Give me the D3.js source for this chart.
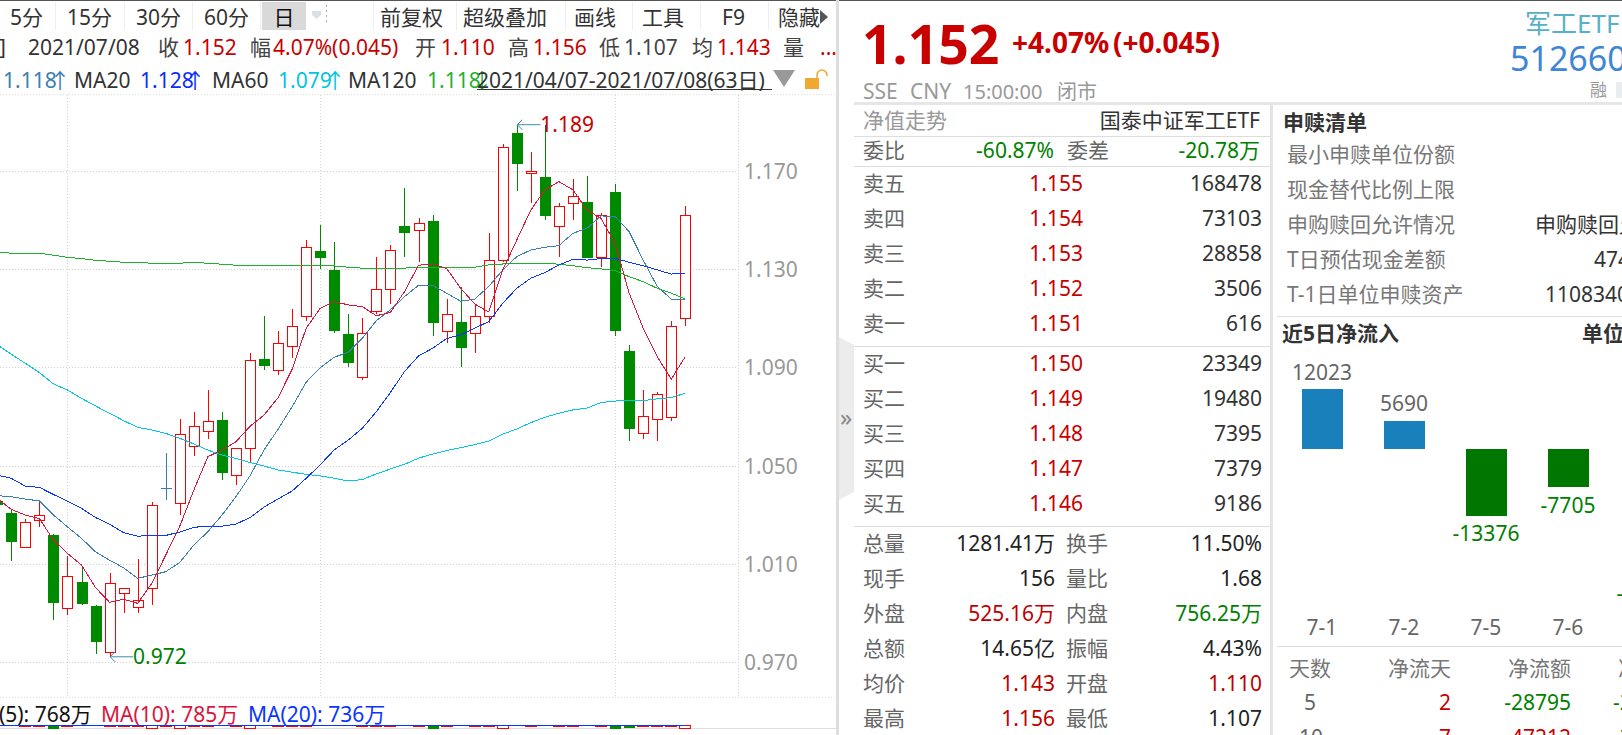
<!DOCTYPE html>
<html><head><meta charset="utf-8">
<script src="https://cdn.jsdelivr.net/npm/d3@7/dist/d3.min.js"></script>
<style>html,body{margin:0;padding:0;background:#fff;overflow:hidden}svg{display:block}
text{font-family:"Noto Sans","Noto Sans CJK SC",sans-serif;dominant-baseline:central}</style></head><body>
<script>
// ---------- chart data ----------
const opens  =[1.036,1.031,1.017,1.028,1.022,0.992,1.003,0.993,0.974,0.998,0.992,1.000,1.041,1.035,1.058,1.064,1.069,1.046,1.057,1.094,1.089,1.099,1.111,1.138,1.130,1.104,1.086,1.113,1.122,1.148,1.146,1.150,1.105,1.109,1.104,1.111,1.134,1.186,1.169,1.168,1.148,1.157,1.158,1.135,1.162,1.097,1.063,1.069,1.070,1.110];
const highs  =[1.037,1.032,1.028,1.036,1.022,1.013,1.009,0.993,1.006,1.000,1.012,1.035,1.055,1.069,1.072,1.081,1.072,1.057,1.096,1.111,1.105,1.114,1.142,1.148,1.141,1.112,1.110,1.135,1.140,1.163,1.151,1.152,1.118,1.123,1.116,1.145,1.181,1.189,1.178,1.189,1.157,1.167,1.168,1.153,1.165,1.099,1.081,1.080,1.109,1.156];
const lows   =[1.033,1.011,1.017,1.025,0.987,0.989,0.993,0.973,0.972,0.990,0.990,0.993,1.036,1.030,1.054,1.061,1.044,1.042,1.051,1.089,1.087,1.094,1.109,1.130,1.104,1.090,1.085,1.112,1.116,1.135,1.133,1.103,1.100,1.090,1.096,1.108,1.133,1.162,1.157,1.150,1.135,1.150,1.135,1.131,1.103,1.060,1.061,1.060,1.068,1.107];
const closes =[1.034,1.019,1.027,1.030,0.994,1.005,0.994,0.978,1.002,1.000,0.995,1.034,1.041,1.063,1.066,1.068,1.047,1.057,1.093,1.091,1.100,1.107,1.139,1.135,1.105,1.092,1.104,1.122,1.138,1.145,1.149,1.108,1.112,1.098,1.111,1.134,1.180,1.173,1.170,1.152,1.156,1.160,1.135,1.152,1.105,1.065,1.070,1.079,1.107,1.152];
const ma5  =[1.0366,1.0321,1.0298,1.0284,1.0196,1.0142,1.0094,1.0002,0.9942,0.9955,0.9938,1.0019,1.0135,1.0253,1.0400,1.0536,1.0563,1.0597,1.0660,1.0706,1.0777,1.0893,1.1060,1.1141,1.1169,1.1155,1.1148,1.1111,1.1124,1.1209,1.1317,1.1322,1.1304,1.1223,1.1159,1.1126,1.1298,1.1420,1.1542,1.1624,1.1658,1.1624,1.1542,1.1508,1.1406,1.1203,1.1060,1.0944,1.0852,1.0944];
const ma10 =[1.0377,1.0373,1.0363,1.0356,1.0298,1.0250,1.0203,1.0148,1.0114,1.0083,1.0040,1.0053,1.0067,1.0105,1.0176,1.0230,1.0298,1.0373,1.0458,1.0564,1.0648,1.0740,1.0840,1.0899,1.0942,1.0962,1.1019,1.1091,1.1135,1.1189,1.1235,1.1235,1.1203,1.1170,1.1179,1.1230,1.1298,1.1352,1.1379,1.1390,1.1397,1.1447,1.1468,1.1518,1.1515,1.1454,1.1338,1.1230,1.1179,1.1179];
const ma20 =[1.0461,1.0448,1.0416,1.0411,1.0382,1.0355,1.0325,1.0288,1.0261,1.0226,1.0212,1.0215,1.0215,1.0229,1.0248,1.0253,1.0253,1.0261,1.0288,1.0331,1.0364,1.0396,1.0448,1.0503,1.0564,1.0604,1.0652,1.0720,1.0798,1.0883,1.0947,1.0978,1.1018,1.1033,1.1060,1.1087,1.1162,1.1223,1.1264,1.1287,1.1318,1.1341,1.1338,1.1344,1.1345,1.1329,1.1315,1.1298,1.1281,1.1284];
const ma60 =[1.0992,1.0954,1.0917,1.0879,1.0833,1.0808,1.0774,1.0743,1.0713,1.0683,1.0656,1.0645,1.0631,1.0611,1.0588,1.0563,1.0543,1.0529,1.0512,1.0498,1.0482,1.0473,1.0464,1.0458,1.0448,1.0437,1.0443,1.0466,1.0486,1.0505,1.0530,1.0547,1.0561,1.0573,1.0585,1.0600,1.0628,1.0649,1.0675,1.0697,1.0713,1.0727,1.0734,1.0757,1.0763,1.0766,1.0765,1.0772,1.0777,1.0795];
const ma120=[1.1370,1.1366,1.1366,1.1366,1.1358,1.1349,1.1344,1.1337,1.1333,1.1329,1.1329,1.1325,1.1325,1.1325,1.1329,1.1325,1.1321,1.1317,1.1317,1.1317,1.1317,1.1317,1.1317,1.1317,1.1314,1.1309,1.1305,1.1305,1.1305,1.1305,1.1309,1.1309,1.1309,1.1309,1.1309,1.1318,1.1322,1.1325,1.1325,1.1325,1.1321,1.1315,1.1307,1.1302,1.1295,1.1270,1.1250,1.1223,1.1203,1.1179];
const volumes=[400,380,400,380,1500,420,400,400,400,420,420,1250,420,1150,400,400,400,400,1150,420,420,400,420,420,400,400,400,420,420,400,420,1300,420,420,420,420,1150,420,400,420,420,420,420,420,1700,1100,420,400,420,1281];
const tickValues=[1.17,1.13,1.09,1.05,1.01,0.97];
const dojiIndex=12;
const highMark={index:37,value:1.189,label:"1.189"};
const lowMark={index:8,value:0.972,label:"0.972"};
const flowDates=["7-1","7-2","7-5","7-6","7-7"];
const flowValues=[12023,5690,-13376,-7705,-25427];

const periods=["5分","15分","30分","60分","日"];
const periodX=[10,67,136,204,284];
const tools=["前复权","超级叠加","画线","工具","F9","隐藏"];
const toolX=[380,463,574,642,722,778];
const sellLabels=["卖五","卖四","卖三","卖二","卖一"];
const sellPrices=["1.155","1.154","1.153","1.152","1.151"];
const sellVols=["168478","73103","28858","3506","616"];
const buyLabels=["买一","买二","买三","买四","买五"];
const buyPrices=["1.150","1.149","1.148","1.147","1.146"];
const buyVols=["23349","19480","7395","7379","9186"];
const statRows=[["总量","1281.41万","换手","11.50%"],["现手","156","量比","1.68"],["外盘","525.16万","内盘","756.25万"],["总额","14.65亿","振幅","4.43%"],["均价","1.143","开盘","1.110"],["最高","1.156","最低","1.107"]];
const statColors=[["#222","#222"],["#222","#222"],["#c00000","#008000"],["#222","#222"],["#c00000","#c00000"],["#c00000","#222"]];
const redeemLabels=["最小申赎单位份额","现金替代比例上限","申购赎回允许情况","T日预估现金差额","T-1日单位申赎资产"];

// ---------- layout ----------
const W=1622,H=735,RED="#ff0000",GREEN="#008a00",TR="#c80000",TG="#008000",GRAY="#999",DK="#333";
const svg=d3.select("body").append("svg").attr("width",W).attr("height",H).attr("viewBox",`0 0 ${W} ${H}`);
const txt=(x,y,s,c=DK,o={})=>svg.append("text").attr("x",x).attr("y",y).attr("dy",-0.5).text(s).attr("fill",c)
  .attr("font-size",o.size||21).attr("text-anchor",o.anchor||"start").attr("font-weight",o.weight||400);
const hline=(x1,x2,y,c="#ddd",w=1,dash=null)=>svg.append("line").attr("x1",x1).attr("x2",x2).attr("y1",y).attr("y2",y).attr("stroke",c).attr("stroke-width",w).attr("stroke-dasharray",dash).attr("shape-rendering","crispEdges");
const vline=(x,y1,y2,c="#ddd",w=1,dash=null)=>svg.append("line").attr("x1",x).attr("x2",x).attr("y1",y1).attr("y2",y2).attr("stroke",c).attr("stroke-width",w).attr("stroke-dasharray",dash).attr("shape-rendering","crispEdges");

// scales
const x=d3.scaleLinear().domain([0,49]).range([-2.73,685.3]);
const y=d3.scaleLinear().domain([1.17,0.97]).range([171.3,661.7]);
const volH=d3.scaleLinear().domain([0,1300]).range([0,3]);
const idx=d3.range(closes.length);

// top bar
hline(0,W,0.5,"#555",1);
svg.append("rect").attr("x",262).attr("y",2).attr("width",44).attr("height",28).attr("fill","#d9d9d9");
periods.forEach((p,i)=>txt(periodX[i],17,p,i==4?"#111":DK,{anchor:i==4?"middle":"start"}));
[55,124,192,260,373,456,565,632,700,768].forEach(v=>vline(v+.5,2,30,"#eee"));
svg.append("path").attr("d","M312 11h9v4l-4.500 4l-4.500-4z").attr("fill","#d8dfe5");
vline(326.5,5,25,"#aaa",1,"2 3");
tools.forEach((p,i)=>txt(toolX[i],17,p));
svg.append("path").attr("d","M820 10l8 7l-8 7z").attr("fill","#555");

// info row
txt(-1,47.500,"]");
txt(28,47.500,"2021/07/08");
[["收",158],["幅",250],["开",415],["高",508],["低",599],["均",692],["量",783]].forEach(d=>txt(d[1],47.500,d[0],"#444"));
[["1.152",183,TR],["4.07%(0.045)",273,TR],["1.110",441,TR],["1.156",533,TR],["1.107",624,"#444"],["1.143",717,TR],["...",820,TR]].forEach(d=>txt(d[1],47.500,d[0],d[2]));

// MA row
txt(3,80,"1.118","#3a7fb0");txt(60,80,"↑","#3a7fb0",{anchor:"middle"});
txt(74,80,"MA20");
txt(140,80,"1.128","#0a2cff");txt(195,80,"↑","#0a2cff",{anchor:"middle"});
txt(212,80,"MA60");
txt(278,80,"1.079","#00c4e0");txt(335,80,"↑","#00c4e0",{anchor:"middle"});
txt(348,80,"MA120");
txt(427,80,"1.118","#1fb030");txt(482,80,"↓","#1fb030",{anchor:"middle"});
txt(477,80,"2021/04/07-2021/07/08(63日)");
hline(477,772,89,"#333",1);
svg.append("path").attr("d","M773 70h22l-11 17z").attr("fill","#999");
svg.append("rect").attr("x",805).attr("y",78).attr("width",14).attr("height",11).attr("fill","#f0a830");
svg.append("path").attr("d","M817 78v-3a5 5 0 0 1 10 0v1").attr("fill","none").attr("stroke","#f0a830").attr("stroke-width",1.500);
hline(0,838,94.5,"#ddd",1,"1 2");

// grid
const grid="#d2d2d2";
tickValues.forEach(v=>hline(0,738,Math.round(y(v))+.5,grid,1,"1 2"));
[67,320,615,738].forEach(v=>vline(v+.5,95,697,grid,1,"1 2"));
hline(0,838,697.5,"#ddd",1,"1 2");
hline(0,838,728.5,"#ddd",1);

// right axis
const axis=svg.append("g").attr("transform","translate(744,0)").call(d3.axisRight(y).tickValues(tickValues).tickSize(0).tickPadding(0).tickFormat(d3.format(".3f")));
axis.select(".domain").remove();
axis.selectAll("text").attr("font-size",21).attr("fill",GRAY).attr("dy",-0.5);

// candles
const plot=svg.append("g").attr("shape-rendering","crispEdges");
const col=i=>i===dojiIndex?"#3a7fb0":(closes[i]>=opens[i]?RED:GREEN);
plot.selectAll(".w").data(idx).join("line").attr("x1",i=>Math.round(x(i))+.5).attr("x2",i=>Math.round(x(i))+.5)
  .attr("y1",i=>y(highs[i])).attr("y2",i=>y(lows[i])).attr("stroke",col).attr("stroke-width",1);
plot.selectAll(".b").data(idx.filter(i=>i!==dojiIndex)).join("rect")
  .attr("x",i=>Math.round(x(i))-5+(closes[i]>=opens[i]?.5:0)).attr("width",i=>closes[i]>=opens[i]?10:11)
  .attr("y",i=>Math.round(y(Math.max(opens[i],closes[i])))+.5).attr("height",i=>Math.max(1,Math.abs(y(opens[i])-y(closes[i]))))
  .attr("fill",i=>closes[i]>=opens[i]?"#fff":GREEN).attr("stroke",i=>closes[i]>=opens[i]?RED:GREEN).attr("stroke-width",i=>closes[i]>=opens[i]?1:0);
plot.append("line").attr("x1",Math.round(x(dojiIndex))-5).attr("x2",Math.round(x(dojiIndex))+6)
  .attr("y1",Math.round(y(closes[dojiIndex]))+.5).attr("y2",Math.round(y(closes[dojiIndex]))+.5).attr("stroke",col(dojiIndex));

// moving averages
const line=d3.line().x((d,i)=>x(i)).y(d=>y(d));
[[ma120,"#1fb030"],[ma60,"#00c8e0"],[ma20,"#0a35ff"],[ma10,"#3a7fb0"],[ma5,"#dc143c"]].forEach(([d,c])=>
  svg.append("path").datum(d).attr("d",line).attr("fill","none").attr("stroke",c).attr("stroke-width",1).attr("shape-rendering","crispEdges"));

// high / low markers
[[highMark,23,TR],[lowMark,23,TG]].forEach(([m,len,c])=>{
  const px=x(m.index)+.5,py=y(m.value);
  svg.append("path").attr("d",`M${px+len} ${py}H${px}M${px+5} ${py-5}L${px} ${py}L${px+5} ${py+5}`).attr("fill","none").attr("stroke","#3a8fb0").attr("stroke-width",1);
  txt(px+len,py,m.label,c);
});

// volume strip
txt(-1,714,"(5): 768万","#111",{size:21});txt(101,714,"MA(10): 785万","#dc143c",{size:21});txt(248,714,"MA(20): 736万","#0a35ff",{size:21});
const vol=svg.append("g").attr("shape-rendering","crispEdges");
vol.selectAll("rect").data(idx).join("rect").attr("x",i=>Math.round(x(i))-5.500).attr("width",11).attr("y",725.5)
  .attr("height",i=>Math.max(.6,volH(volumes[i])))
  .attr("fill",i=>closes[i]>=opens[i]?"#fff":GREEN).attr("stroke",i=>closes[i]>=opens[i]?RED:GREEN).attr("stroke-width",i=>closes[i]>=opens[i]?1:0);
hline(0,685,725.5,"#0a35ff",1);

// separators / collapse tab
svg.append("rect").attr("x",836).attr("y",0).attr("width",3).attr("height",H).attr("fill","#dedede");
svg.append("path").attr("d","M839 337L854 345V492L839 500z").attr("fill","#ececec");
txt(846,417,"»","#888",{anchor:"middle",size:24});
hline(854,W,103,"#e6e6e6",3);

// quote header
txt(862,44,"1.152",TR,{size:53.5,weight:700});
txt(1012,42,"+4.07%",TR,{size:28,weight:700});
txt(1113,42,"(+0.045)",TR,{size:28,weight:700});
[["SSE",863,21],["CNY",910,21],["15:00:00",963,20],["闭市",1057,20]].forEach(d=>txt(d[1],91.500,d[0],GRAY,{size:d[2]}));
txt(1525,23,"军工ETF","#55b0c8",{size:26});
txt(1510,58,"512660","#3f86d6",{size:34});
txt(1590,90,"融",GRAY,{size:17});
svg.append("rect").attr("x",1616).attr("y",82).attr("width",6).attr("height",16).attr("fill","#e8eef0");

// quote table
txt(863,120,"净值走势",GRAY);
txt(1260,120,"国泰中证军工ETF",DK,{anchor:"end"});
hline(854,1270,136.5);
txt(863,150.5,"委比","#666");txt(1054,150.5,"-60.87%",TG,{anchor:"end"});txt(1067,150.5,"委差","#666");txt(1260,150.5,"-20.78万",TG,{anchor:"end"});
hline(854,1270,166.5);
const book=(labels,prices,vols,y0)=>labels.forEach((l,i)=>{const yy=y0+i*35;
  txt(863,yy,l,"#666");txt(1083,yy,prices[i],TR,{anchor:"end"});txt(1262,yy,vols[i],DK,{anchor:"end"});});
book(sellLabels,sellPrices,sellVols,183);
hline(854,1270,346.5);
book(buyLabels,buyPrices,buyVols,363);
hline(854,1270,526.5);
statRows.forEach((r,i)=>{const yy=543+i*35;
  txt(863,yy,r[0],"#666");txt(1055,yy,r[1],statColors[i][0],{anchor:"end"});
  txt(1066,yy,r[2],"#666");txt(1262,yy,r[3],statColors[i][1],{anchor:"end"});});
svg.append("rect").attr("x",1270).attr("y",105).attr("width",3).attr("height",H-105).attr("fill","#e4e4e4");

// redemption panel
txt(1283,122,"申赎清单",DK,{weight:700});
redeemLabels.forEach((l,i)=>txt(1287,154+i*35,l,"#777"));
txt(1535,224,"申购赎回允许",DK);
txt(1594,259,"474",DK);
txt(1545,294,"1108340",DK);
hline(1277,W,316.5);
txt(1282,333,"近5日净流入",DK,{weight:700});
txt(1582,333,"单位",DK,{weight:700});

// net-flow bars
const fx=d3.scaleBand().domain(flowDates).range([1281,1691]).paddingInner(.5).paddingOuter(.25);
const fy=d3.scaleLinear().domain([0,12023]).range([449,389]);
const bars=svg.append("g").attr("shape-rendering","crispEdges");
bars.selectAll("rect").data(flowValues).join("rect").attr("x",(d,i)=>fx(flowDates[i])).attr("width",fx.bandwidth())
  .attr("y",d=>Math.min(fy(d),fy(0))).attr("height",d=>Math.abs(fy(d)-fy(0))).attr("fill",d=>d>=0?"#1a80bb":"#007700");
flowValues.forEach((d,i)=>{const cx=fx(flowDates[i])+fx.bandwidth()/2;
  txt(cx,d>=0?fy(d)-17:fy(d)+18,d,d>=0?"#666":TG,{anchor:"middle"});
  txt(cx,627,flowDates[i],"#666",{anchor:"middle"});});
hline(1277,W,646.5);

// flow table
txt(1289,668,"天数","#777");txt(1451,668,"净流天","#777",{anchor:"end"});txt(1571,668,"净流额","#777",{anchor:"end"});txt(1618,668,"净流占比","#777");
txt(1304,702,"5","#666");txt(1451,702,"2",TR,{anchor:"end"});txt(1571,702,"-28795",TG,{anchor:"end"});txt(1613,702,"-2.25%",TG);
txt(1299,737,"10","#666");txt(1451,737,"7",TR,{anchor:"end"});txt(1571,737,"47212",TR,{anchor:"end"});txt(1613,737,"-3.68%",TG);
</script></body></html>
